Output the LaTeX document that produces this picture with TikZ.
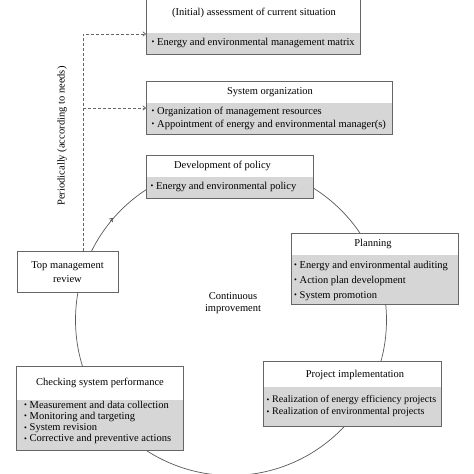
\documentclass[tikz,border=0pt]{standalone}
\usepackage{fontspec}
\setmainfont{Liberation Serif}
\usetikzlibrary{arrows.meta,calc}
\newcommand{\bul}{\makebox[5.5pt][l]{\raisebox{0.6pt}{\fontsize{8}{8}\selectfont\textbullet}}}
\definecolor{framec}{gray}{0.4}
\definecolor{bodyc}{gray}{0.84}
\definecolor{linec}{gray}{0.35}
\begin{document}
\begin{tikzpicture}[x=1pt,y=-1pt,
  framebox/.style={draw=none,fill=white,rectangle,inner sep=0pt,anchor=north west},
  bodybox/.style={draw=none,fill=bodyc,rectangle,inner sep=0pt,anchor=south west},
  border/.style={draw=framec,line width=0.8pt},
  titletext/.style={inner sep=0pt,font=\fontsize{10.5}{12}\selectfont,align=center},
  itemtext/.style={inner sep=0pt,anchor=west,align=left},
  cycleline/.style={draw=linec,line width=0.7pt},
  dashline/.style={draw=framec,line width=0.7pt,dash pattern=on 3pt off 2pt},
  arrowtip/.style={-{To[length=3.5pt,width=5pt]}}
]
\useasboundingbox (0,0) rectangle (474,474);
\clip (0,0) rectangle (474,474);
\fill[white] (0,0) rectangle (474,474);

% cycle
\coordinate (cc) at (231,320);
\draw[cycleline] (cc) circle[radius=155.5pt];
\coordinate (arrA) at ($(113,218)+(-2.6,3)$);
\coordinate (arrB) at (113,218);
\draw[cycleline,arrowtip] (arrA) -- (arrB);

% Box A
\node[framebox,minimum width=214pt,minimum height=62pt] (A) at (146,-8) {};
\node[bodybox,minimum width=214pt,minimum height=21pt] (Ab) at (A.south west) {};
\draw[border] (A.north west) rectangle (A.south east);
\node[titletext] (At) at (254,13) {(Initial) assessment of current situation};
\node[itemtext,font=\fontsize{10.5}{13}\selectfont] (Ai) at (151.5,43) {\bul Energy and environmental management matrix};

% Box B
\node[framebox,minimum width=246pt,minimum height=53pt] (B) at (146,81) {};
\node[bodybox,minimum width=246pt,minimum height=31pt] (Bb) at (B.south west) {};
\draw[border] (B.north west) rectangle (B.south east);
\node[titletext] (Bt) at (270,92) {System organization};
\node[itemtext,font=\fontsize{10.5}{13}\selectfont] (Bi) at (151.5,118) {\bul Organization of management resources\\\bul Appointment of energy and environmental manager(s)};

% Box C
\node[framebox,minimum width=167pt,minimum height=42.5pt] (C) at (146,155) {};
\node[bodybox,minimum width=167pt,minimum height=20.5pt] (Cb) at (C.south west) {};
\draw[border] (C.north west) rectangle (C.south east);
\node[titletext] (Ct) at (222.5,166) {Development of policy};
\node[itemtext,font=\fontsize{10.5}{13}\selectfont] (Ci) at (150.5,187) {\bul Energy and environmental policy};

% Box D
\node[framebox,minimum width=167pt,minimum height=71pt] (D) at (291,233) {};
\node[bodybox,minimum width=167pt,minimum height=49pt] (Db) at (D.south west) {};
\draw[border] (D.north west) rectangle (D.south east);
\node[titletext] (Dt) at (373,244) {Planning};
\node[itemtext,font=\fontsize{10.5}{15}\selectfont] (Di) at (294,280.5) {\bul Energy and environmental auditing\\\bul Action plan development\\\bul System promotion};

% Box E
\node[framebox,minimum width=101pt,minimum height=41pt] (E) at (17,251) {};
\draw[border] (E.north west) rectangle (E.south east);
\node[titletext,font=\fontsize{10.5}{14}\selectfont] (Et) at (67.5,272) {Top management\\review};

% Box F
\node[framebox,minimum width=167pt,minimum height=84pt] (F) at (16,366) {};
\node[bodybox,minimum width=167pt,minimum height=50pt] (Fb) at (F.south west) {};
\draw[border] (F.north west) rectangle (F.south east);
\node[titletext] (Ft) at (100,383) {Checking system performance};
\node[itemtext,font=\fontsize{10.5}{11.3}\selectfont] (Fi) at (24,422.5) {\bul Measurement and data collection\\\bul Monitoring and targeting\\\bul System revision\\\bul Corrective and preventive actions};

% Box G
\node[framebox,minimum width=178pt,minimum height=65pt] (G) at (263,361) {};
\node[bodybox,minimum width=178pt,minimum height=39pt] (Gb) at (G.south west) {};
\draw[border] (G.north west) rectangle (G.south east);
\node[titletext] (Gt) at (355,375) {Project implementation};
\node[itemtext,font=\fontsize{10.1}{12}\selectfont] (Gi) at (266.5,406.5) {\bul Realization of energy efficiency projects\\\bul Realization of environmental projects};

% centre label
\node[titletext,font=\fontsize{10.5}{12}\selectfont] (ci) at (233,303) {Continuous\\improvement};

% periodic review dashed connectors
\coordinate (c1) at (83,34);
\coordinate (c2) at (83,108);
\draw[dashline,arrowtip] (E.north -| c1) -- (c1) -- (A.west |- c1);
\draw[dashline,arrowtip] (c2) -- (B.west |- c2);
\node[titletext,rotate=90] (per) at (62,136) {Periodically (according to needs)};
\end{tikzpicture}
\end{document}
